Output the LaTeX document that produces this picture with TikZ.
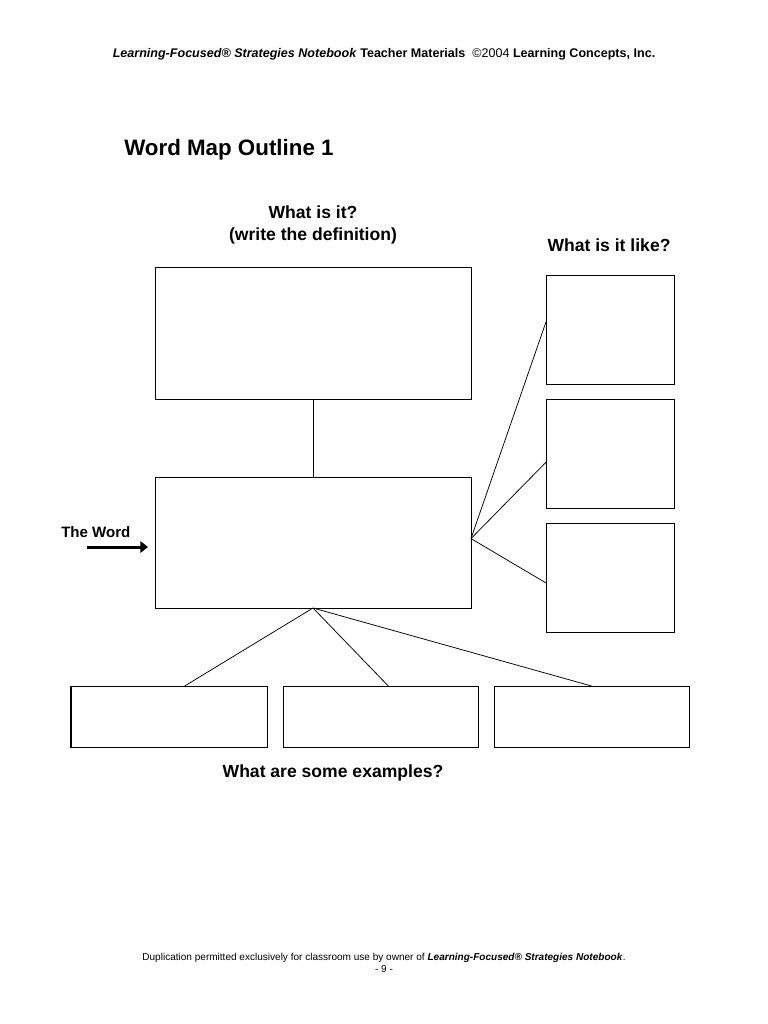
\documentclass[tikz,border=0pt]{standalone}
\usepackage{fontspec}
\setmainfont{Liberation Sans}
\usetikzlibrary{fit,calc,arrows.meta}
\begin{document}
\begin{tikzpicture}[x=0.796875pt, y=-0.796875pt,
  box/.style={draw, line width=0.8pt, inner sep=0pt, outer sep=0pt},
  link/.style={line width=0.6pt},
  lbl/.style={font=\bfseries\fontsize{14}{17.5}\selectfont, inner sep=0pt, align=center}]
\useasboundingbox (0,0) rectangle (768,1024);
% header
\node[inner sep=0pt, font=\fontsize{10}{12}\selectfont] (hdr) at (384,54)
  {\textbf{\textit{Learning-Focused® Strategies Notebook}} \textbf{Teacher Materials}\ \ ©2004 \textbf{Learning Concepts, Inc.}};
% title
\node[inner sep=0pt, anchor=west, font=\bfseries\fontsize{17.8}{20}\selectfont] (title) at (124,150) {Word Map Outline 1};
% labels
\node[lbl] (q1) at (313,225) {What is it?\\(write the definition)};
\node[lbl] (q2) at (609,245) {What is it like?};
\node[lbl] (q3) at (333,773) {What are some examples?};
\node[lbl, anchor=west, font=\bfseries\fontsize{12}{14}\selectfont] (tw) at (61,532) {The Word};
% boxes
\node[box, fit={(155,267) (471,399)}] (def) {};
\node[box, fit={(155,477) (471,608)}] (word) {};
\node[box, fit={(546,275) (674,384)}] (r1) {};
\node[box, fit={(546,399) (674,508)}] (r2) {};
\node[box, fit={(546,523) (674,632)}] (r3) {};
\node[box, fit={(71,686) (267,747)}] (b1) {};
\node[box, fit={(283,686) (478,747)}] (b2) {};
\node[box, fit={(494,686) (689,747)}] (b3) {};
% connectors
\draw[link] (def.south) -- (word.north);
\coordinate (we) at ($(word.north east)!0.47!(word.south east)$);
\draw[link] (we) -- ($(r1.north west)!0.43!(r1.south west)$);
\draw[link] (we) -- ($(r2.north west)!0.58!(r2.south west)$);
\draw[link] (we) -- ($(r3.north west)!0.55!(r3.south west)$);
\draw[link] (word.south) -- ($(b1.north west)!0.58!(b1.north east)$);
\draw[link] (word.south) -- ($(b2.north west)!0.54!(b2.north east)$);
\draw[link] (word.south) -- (b3.north);
% arrow
\coordinate (as) at (87,547);
\coordinate (ae) at ($(word.west|-as)+(-7,0)$);
\draw[line width=2.4pt, -{Triangle[length=6pt, width=9pt]}] (as) -- (ae);
% footer
\node[inner sep=0pt, font=\fontsize{8}{9.4}\selectfont, align=center] (ftr) at (384,963)
  {Duplication permitted exclusively for classroom use by owner of \textbf{\textit{Learning-Focused® Strategies Notebook}}.\\- 9 -};
\end{tikzpicture}
\end{document}
